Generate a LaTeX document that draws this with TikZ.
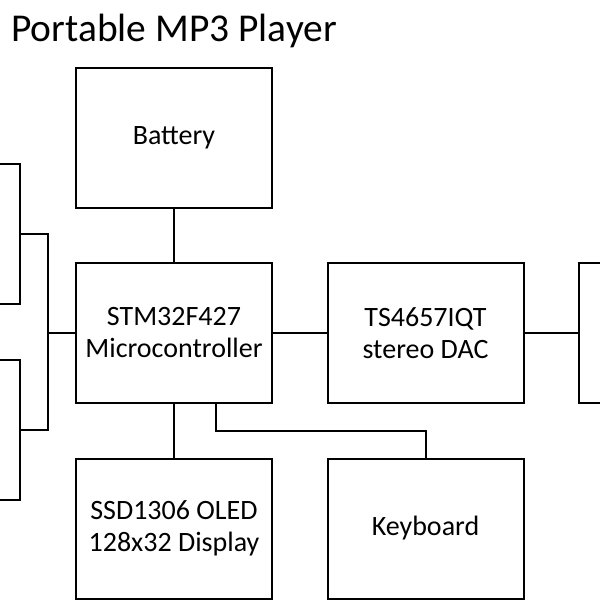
\documentclass[tikz,border=0pt]{standalone}
\usepackage{fontspec}
\setmainfont{Carlito}
\begin{document}
\begin{tikzpicture}[x=0.75pt,y=-0.75pt,
  blk/.style={draw=black,line width=1.5pt,minimum width=147pt,minimum height=105pt,inner sep=0pt,align=center,font=\fontsize{21}{24}\selectfont},
  wire/.style={draw=black,line width=1.5pt}]
\useasboundingbox (0,0) rectangle (600,600);
\clip (0,0) rectangle (600,600);
\node[anchor=base west,inner sep=0pt,font=\fontsize{29.6}{34}\selectfont] (title) at (11,41) {Portable MP3 Player};
\node[blk] (bat) at (174,137.5) {Battery};
\node[blk] (mcu) at (174,333) {STM32F427\\Microcontroller};
\node[blk] (dac) at (425.5,333) {TS4657IQT\\stereo DAC};
\node[blk] (oled) at (174,528.5) {SSD1306 OLED\\128x32 Display};
\node[blk] (kb) at (425.5,528.5) {Keyboard};
\node[blk] (lt) at (-78,234) {};
\node[blk] (lb) at (-78,430) {};
\node[blk] (rt) at (677,333) {};
\coordinate (busT) at (48,234);
\coordinate (busB) at (48,430);
\coordinate (busM) at (48,333);
\coordinate (kbA) at (216,403);
\coordinate (kbB) at (216,431);
\coordinate (kbC) at (425.5,431);
\draw[wire] (bat) -- (mcu);
\draw[wire] (mcu) -- (dac);
\draw[wire] (dac) -- (rt);
\draw[wire] (mcu) -- (oled);
\draw[wire] (lt.east) -- (busT) -- (busB) -- (lb.east);
\draw[wire] (busM) -- (mcu.west);
\draw[wire] (kbA) -- (kbB) -- (kbC) -- (kb.north);
\end{tikzpicture}
\end{document}
